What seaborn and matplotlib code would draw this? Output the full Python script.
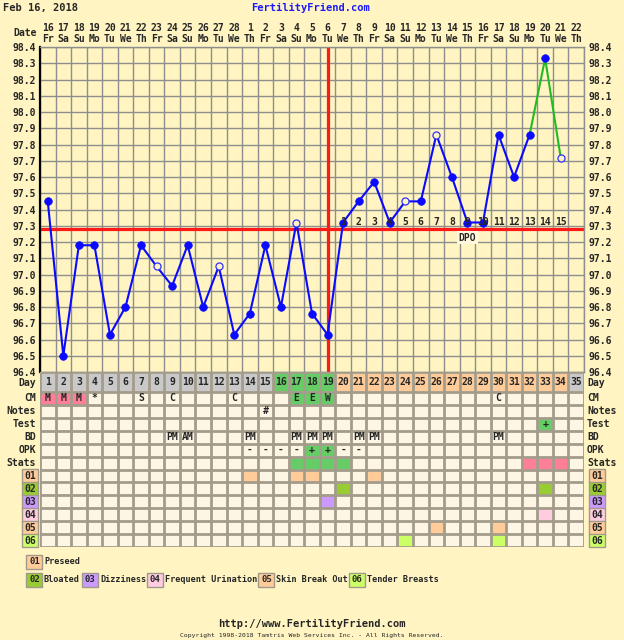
import numpy as np
import pandas as pd
import matplotlib
matplotlib.use("Agg")
import matplotlib.pyplot as plt
import seaborn as sns

sns.set_style("white")
plt.rcParams['font.family'] = ['DejaVu Sans Mono', 'DejaVu Sans']
plt.rcParams['font.weight'] = 'bold'

# --- data ---
days = list(range(1, 36))
dates = list(range(16, 29)) + list(range(1, 23))
weekdays = (['Fr', 'Sa', 'Su', 'Mo', 'Tu', 'We', 'Th'] * 5)[:35]
temps = [97.45, 96.50, 97.18, 97.18, 96.63, 96.80, 97.18, 97.05, 96.93, 97.18,
         96.80, 97.05, 96.63, 96.76, 97.18, 96.80, 97.32, 96.76, 96.63, 97.32,
         97.45, 97.57, 97.32, 97.45, 97.45, 97.86, 97.60, 97.32, 97.32, 97.86,
         97.60, 97.86, 98.33, 97.72, np.nan]
open_days = [8, 12, 17, 24, 26, 34]
coverline = 97.28
ovulation_day = 19
dpo_days = list(range(20, 35))
dpo_labels = [str(i) for i in range(1, 16)]

phase = ['gray'] * 15 + ['green'] * 4 + ['orange'] * 15 + ['gray']
cm = {1: 'M', 2: 'M', 3: 'M', 4: '*', 7: 'S', 9: 'C', 13: 'C', 17: 'E', 18: 'E', 19: 'W', 30: 'C'}
notes = {15: '#'}
test = {33: '+'}
bd = {9: 'PM', 10: 'AM', 14: 'PM', 17: 'PM', 18: 'PM', 19: 'PM', 21: 'PM', 22: 'PM', 30: 'PM'}
opk = {14: '-', 15: '-', 16: '-', 17: '-', 18: '+', 19: '+', 20: '-', 21: '-'}
stats_green = [17, 18, 19, 20]
stats_pink = [32, 33, 34]
symptom_codes = ['01', '02', '03', '04', '05', '06']
symptom_names = ['Preseed', 'Bloated', 'Dizziness', 'Frequent Urination', 'Skin Break Out', 'Tender Breasts']
symptom_days = {'01': [14, 17, 18, 22], '02': [20, 33], '03': [19], '04': [33],
                '05': [26, 30], '06': [24, 30]}

# --- colours ---
BG = '#FFF4C2'
CELL = '#FDF6E4'
TGRID = '#A39C8A'
GRID = '#8E8E8E'
C_GRAY = '#C9C9C9'
C_GREEN = '#66CC66'
C_ORANGE = '#FFCC99'
C_PINK = '#FF7F99'
sym_colors = {'01': '#FFCC99', '02': '#99CC33', '03': '#CC99FF', '04': '#FFCCE0',
              '05': '#FFCC99', '06': '#CCFF66'}
phase_colors = {'gray': C_GRAY, 'green': C_GREEN, 'orange': C_ORANGE}

W, H = 624, 640
fig = plt.figure(figsize=(W / 100, H / 100), dpi=100, facecolor=BG)


def fx(x):
    return x / W


def fy(y):
    return 1 - y / H


FS = 7

# --- temperature chart ---
ax = fig.add_axes([fx(40), fy(372), fx(584) - fx(40), fy(47) - fy(372)])
ax.set_facecolor(BG)
ax.set_xlim(0.5, 35.5)
ax.set_ylim(96.4, 98.4)

for k in range(36):
    ax.axvline(k + 0.5, color=GRID, lw=1, zorder=1)
for t in np.arange(96.4, 98.41, 0.1):
    ax.axhline(t, color=GRID, lw=1, zorder=1)

df = pd.DataFrame({'day': days, 'temp': temps})
df['open'] = df['day'].isin(open_days)
main = df[df['day'] <= 32]
tail = df[(df['day'] >= 32) & (df['day'] <= 34)]

ax.axhline(coverline, color='#FF1A1A', lw=2.3, zorder=2)
ax.axvline(ovulation_day, color='#FF1A1A', lw=2.3, zorder=2)

sns.lineplot(data=main, x='day', y='temp', color='#0A0AFF', lw=1.5, ax=ax, zorder=3)
sns.lineplot(data=tail, x='day', y='temp', color='#22BB22', lw=1.5, ax=ax, zorder=3)
filled = df[~df['open'] & df['temp'].notna()]
hollow = df[df['open']]
sns.scatterplot(data=filled, x='day', y='temp', color='#0A0AFF', s=30, edgecolor='#0A0AFF',
                linewidth=0.5, ax=ax, zorder=4)
ax.scatter(hollow['day'], hollow['temp'], s=26, facecolor=BG, edgecolor='#3030FF',
           linewidth=0.9, zorder=4)

for d, lab in zip(dpo_days, dpo_labels):
    ax.text(d, coverline + 0.045, lab, ha='center', va='center', fontsize=FS,
            fontweight='bold', zorder=5)
ax.text(28, coverline - 0.055, 'DPO', ha='center', va='center', fontsize=FS,
        fontweight='bold', zorder=5,
        bbox=dict(boxstyle='square,pad=0.15', facecolor='#FFF8DC', edgecolor='none'))

ax.set_yticks(np.round(np.arange(96.4, 98.41, 0.1), 1))
ax.set_yticklabels([f'{t:.1f}' for t in np.arange(96.4, 98.41, 0.1)])
ax.set_xticks(days)
ax.set_xticklabels([f'{d}\n{w}' for d, w in zip(dates, weekdays)])
ax.tick_params(axis='y', length=0, labelsize=FS, labelleft=True, labelright=True, pad=3)
ax.tick_params(axis='x', length=0, labelsize=FS, labelbottom=False, labeltop=True, pad=2)
for lab in ax.get_xticklabels() + ax.get_yticklabels():
    lab.set_fontweight('bold')
ax.set_xlabel('')
ax.set_ylabel('')
for s in ax.spines.values():
    s.set_color(GRID)
    s.set_linewidth(1)
ax.spines['left'].set_color('black')
ax.spines['left'].set_linewidth(1.6)

# --- table ---
tab = fig.add_axes([fx(40), fy(547), fx(584) - fx(40), fy(372) - fy(547)])
tab.set_facecolor(CELL)
day_h = 1.55
n_rows = 12
tab.set_xlim(0.5, 35.5)
tab.set_ylim(day_h + n_rows, 0)
tab.axis('off')
tab.add_patch(plt.Rectangle((0.5, 0), 35, day_h + n_rows, facecolor=CELL, edgecolor='none', zorder=0))

row_names = ['CM', 'Notes', 'Test', 'BD', 'OPK', 'Stats'] + symptom_codes


def row_top(i):
    return day_h + i


# day row
tab.bar(days, day_h, bottom=0, width=1, color=[phase_colors[p] for p in phase], zorder=1)
for d in days:
    tab.text(d, day_h / 2, str(d), ha='center', va='center', fontsize=FS, fontweight='bold', zorder=3)


def fill(row, ds, color):
    if ds:
        tab.bar(ds, 1, bottom=row_top(row), width=1, color=color, zorder=1)


def write(row, entries):
    for d, s in entries.items():
        tab.text(d, row_top(row) + 0.5, s, ha='center', va='center', fontsize=FS,
                 fontweight='bold', zorder=3)


fill(0, [d for d, s in cm.items() if s == 'M'], C_PINK)
fill(0, [d for d, s in cm.items() if s in ('E', 'W')], C_GREEN)
write(0, cm)
write(1, notes)
fill(2, list(test), C_GREEN)
write(2, test)
write(3, bd)
fill(4, [d for d, s in opk.items() if s == '+'], C_GREEN)
write(4, opk)
fill(5, stats_green, C_GREEN)
fill(5, stats_pink, C_PINK)
for i, code in enumerate(symptom_codes):
    fill(6 + i, symptom_days[code], sym_colors[code])

for k in range(36):
    tab.plot([k + 0.5, k + 0.5], [0, day_h + n_rows], color=TGRID, lw=2, zorder=2,
             solid_capstyle='butt')
for e in [0, day_h] + [day_h + i for i in range(1, n_rows + 1)]:
    tab.plot([0.5, 35.5], [e, e], color=TGRID, lw=2, zorder=2, solid_capstyle='butt')

# row labels both sides
ytr = tab.get_yaxis_transform()
tab.text(-4 / 544, day_h / 2 + 0.05, 'Day', ha='right', va='center', fontsize=FS, fontweight='bold',
         transform=ytr)
tab.text(1 + 3 / 544, day_h / 2 + 0.05, 'Day', ha='left', va='center', fontsize=FS, fontweight='bold',
         transform=ytr)
for i, name in enumerate(row_names):
    yc = row_top(i) + 0.5
    if name in sym_colors:
        box = dict(boxstyle='square,pad=0.2', facecolor=sym_colors[name], edgecolor='#A09A8A', lw=1)
        tab.text(-4 / 544, yc, name, ha='right', va='center', fontsize=FS, fontweight='bold',
                 transform=ytr, bbox=box)
        tab.text(1 + 7 / 544, yc, name, ha='left', va='center', fontsize=FS, fontweight='bold',
                 transform=ytr, bbox=box)
    else:
        tab.text(-4 / 544, yc, name, ha='right', va='center', fontsize=FS, fontweight='bold',
                 transform=ytr)
        tab.text(1 + 3 / 544, yc, name, ha='left', va='center', fontsize=FS, fontweight='bold',
                 transform=ytr)

# --- header / footer text ---
fig.text(fx(3), fy(8), 'Feb 16, 2018', ha='left', va='center', fontsize=7.5, fontweight='bold')
fig.text(fx(311), fy(8), 'FertilityFriend.com', ha='center', va='center', fontsize=7.5,
         fontweight='bold', color='#1A1AFF')
fig.text(fx(37), fy(33), 'Date', ha='right', va='center', fontsize=FS, fontweight='bold')

# legend (box left edges in px, as laid out in the reference)
legend_items = [(0, 29, 562), (1, 29, 580), (2, 85, 580), (3, 150, 580), (4, 261, 580), (5, 352, 580)]
for i, x, y in legend_items:
    code = symptom_codes[i]
    fig.text(fx(x), fy(y), code, ha='left', va='center', fontsize=6.5, fontweight='bold',
             bbox=dict(boxstyle='square,pad=0.28', facecolor=sym_colors[code], edgecolor='#A09A8A', lw=1))
    fig.text(fx(x + 15), fy(y), symptom_names[i], ha='left', va='center', fontsize=6.1,
             fontweight='bold')

fig.text(fx(312), fy(624), 'http://www.FertilityFriend.com', ha='center', va='center',
         fontsize=7.5, fontweight='bold')
fig.text(fx(312), fy(635), 'Copyright 1998-2018 Tamtris Web Services Inc. - All Rights Reserved.',
         ha='center', va='center', fontsize=4.6, fontweight='normal')

fig.savefig('out.png', dpi=100, facecolor=BG)
